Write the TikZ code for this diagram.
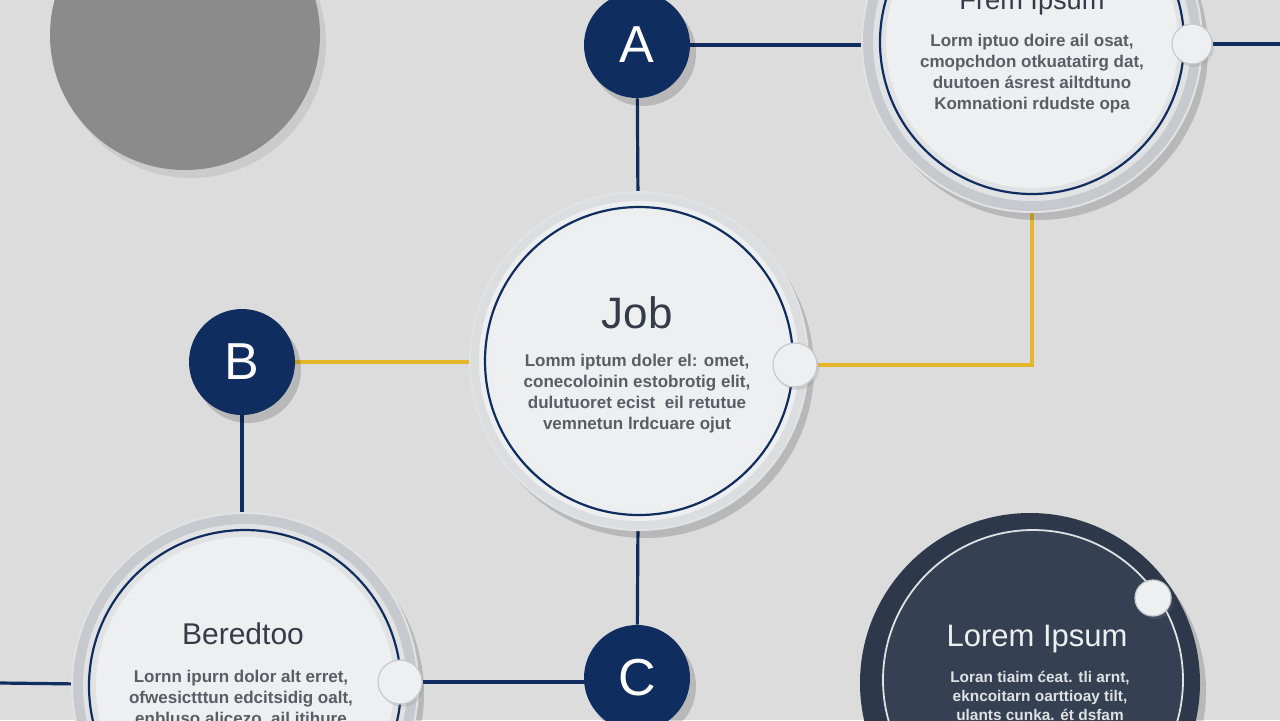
\documentclass[tikz,border=0pt]{standalone}
\usepackage{fontspec}
\setmainfont{Liberation Sans}
\usetikzlibrary{shadows}

\definecolor{navy}{HTML}{0F2D5F}
\definecolor{ringgray}{HTML}{C6C9CD}
\definecolor{ringlight}{HTML}{E0E2E4}
\definecolor{discwhite}{HTML}{EEEFF0}
\definecolor{slate}{HTML}{2D394A}
\definecolor{slatein}{HTML}{354152}
\definecolor{gold}{HTML}{E3B62C}
\definecolor{textgray}{HTML}{585D66}
\definecolor{titlegray}{HTML}{343C4A}
\definecolor{bggray}{HTML}{DCDCDC}
\definecolor{discgray}{HTML}{8B8B8B}

\pgfdeclarelayer{bg}
\pgfdeclarelayer{lines}
\pgfsetlayers{bg,lines,main}

\tikzset{
  soft/.style={drop shadow={shadow xshift=3pt,shadow yshift=-4pt,opacity=0.16,fill=black}},
  letter/.style={circle,fill=navy,text=white,minimum size=53pt,inner sep=0pt,
    font=\fontsize{26}{26}\selectfont,soft},
  ring/.style={circle,fill=ringgray,draw=ringlight,line width=1pt,minimum size=#1,inner sep=0pt,soft},
  knob/.style={circle,fill=discwhite,draw=ringgray,line width=0.6pt,minimum size=#1,inner sep=0pt,
    drop shadow={shadow xshift=1pt,shadow yshift=-1.5pt,opacity=0.2}},
  navyline/.style={navy,line width=1.6pt},
  goldline/.style={gold,line width=2.4pt},
  title/.style={text=titlegray,anchor=base},
  body/.style={text=textgray,align=center,font=\bfseries\fontsize{8.5}{10.5}\selectfont},
}

\begin{document}
\begin{tikzpicture}[x=0.5pt,y=-0.5pt,text centered]

  \useasboundingbox (0,0) rectangle (1280,720);
  \begin{pgfonlayer}{bg}
    \fill[bggray] (0,0) rectangle (1280,720);
  \end{pgfonlayer}

  % grey disc, top left
  \node (G) at (185,35) [circle,fill=discgray,minimum size=135pt,inner sep=0pt,
    drop shadow={shadow xshift=3pt,shadow yshift=-4pt,opacity=0.18}] {};

  % ring circles
  \node (TR) at (1032,42) [ring=170pt] {};
  \fill[ringlight] (TR) circle (159);
  \draw[navy,line width=1.1pt] (TR) circle (152);
  \fill[discwhite] (TR) circle (146);

  \node (J) at (639,361) [ring=169pt,fill=ringlight!80!ringgray] {};
  \fill[ringlight!60!white] (J) circle (160);
  \draw[navy,line width=1.1pt] (J) circle (154);
  \fill[discwhite] (J) circle (147);

  \node (BL) at (245,686) [ring=173pt] {};
  \fill[ringlight] (BL) circle (162);
  \draw[navy,line width=1.1pt] (BL) circle (156);
  \fill[discwhite] (BL) circle (149);

  \node (BR) at (1030,683) [circle,fill=slate,minimum size=170pt,inner sep=0pt,soft] {};
  \fill[slatein] (1033,680) circle (150);
  \draw[white!85!slate,line width=0.9pt] (1033,680) circle (150);

  % letter nodes
  \node (A) at (637,45) [letter] {A};
  \node (B) at (242,362) [letter] {B};
  \node (C) at (637,678) [letter] {C};

  % knobs
  \node (TRk) at (1192,44) [knob=20pt] {};
  \node (Jk) at (795,365) [knob=22pt] {};
  \node (BLk) at (400,682) [knob=22pt] {};
  \node (BRk) at (1153,598) [knob=18pt] {};

  % texts
  \node (TRt) at (1032,9) [title,font=\fontsize{13.6}{14}\selectfont] {Frem Ipsum};
  \node (TRb) at (1032,74) [body] {Lorm iptuo doire ail osat,\\cmopchdon otkuatatirg dat,\\duutoen ásrest ailtdtuno\\Komnationi rdudste opa};

  \node (Jt) at (637,328) [title,font=\fontsize{22}{22}\selectfont] {Job};
  \node (Jb) at (637,394) [body] {Lomm iptum doler el: omet,\\conecoloinin estobrotig elit,\\dulutuoret ecist\ \ eil retutue\\vemnetun lrdcuare ojut};

  \node (BLt) at (243,644) [title,font=\fontsize{15}{15}\selectfont] {Beredtoo};
  \node (BLb) at (241,697) [body] {Lornn ipurn dolor alt erret,\\ofwesictttun edcitsidig oalt,\\enbluso alicezo\ \ ail itihure};

  \node (BRt) at (1037,646) [title,text=white!92!slate,font=\fontsize{15.5}{16}\selectfont] {Lorem Ipsum};
  \node (BRb) at (1040,696) [body,text=white!85!slate,font=\bfseries\fontsize{7.7}{9.5}\selectfont] {Loran tiaim ćeat. tli arnt,\\ekncoitarn oarttioay tilt,\\ulants cunka. ét dsfam};

  % connectors
  \coordinate (E1) at (1280,44);
  \coordinate (W1) at (0,683);
  \begin{pgfonlayer}{lines}
    \draw[navyline] (A) -- (A -| TR);
    \draw[navyline] (A) -- (J);
    \draw[navyline] (TRk) -- (E1);
    \draw[goldline] (TR) -- (TR |- Jk) -- (Jk);
    \draw[goldline] (B) -- (B -| J);
    \draw[navyline] (B) -- (B |- BL);
    \draw[navyline] (J) -- (C);
    \draw[navyline] (BLk) -- (BLk -| C);
    \draw[navyline] (W1) -- (BL);
  \end{pgfonlayer}

\end{tikzpicture}
\end{document}
